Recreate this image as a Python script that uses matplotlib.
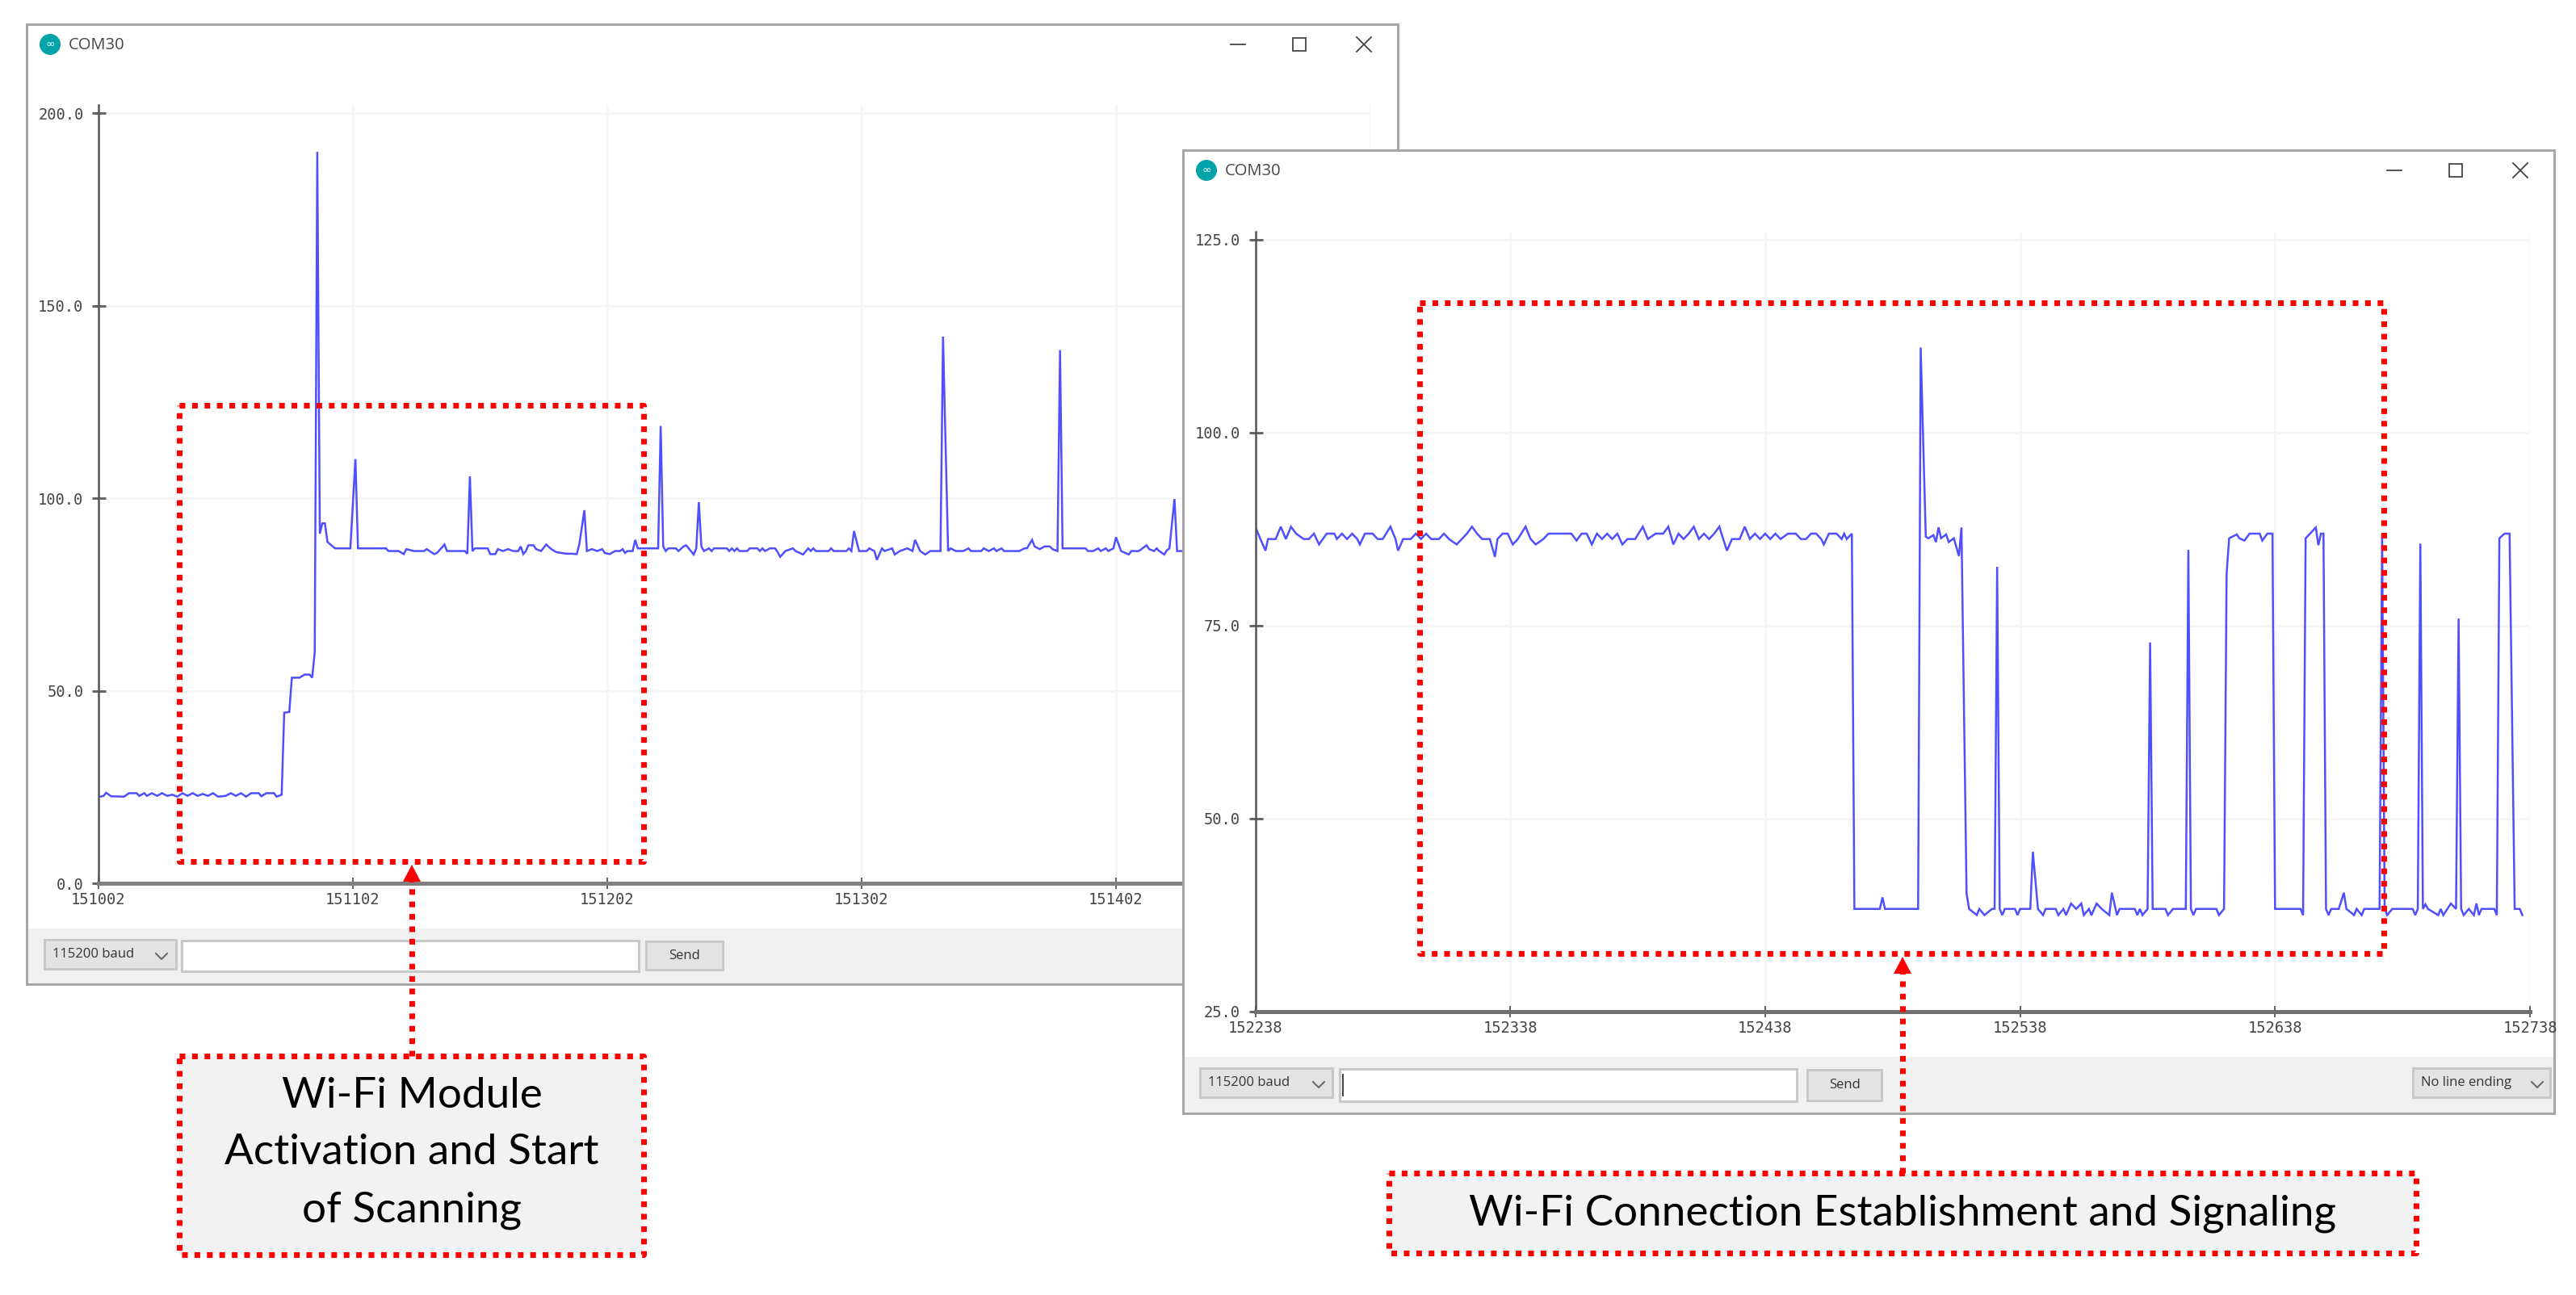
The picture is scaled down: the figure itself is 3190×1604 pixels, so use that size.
from __future__ import annotations

import matplotlib
matplotlib.use("Agg")
import matplotlib.pyplot as plt
from matplotlib.patches import Circle, Polygon, Rectangle

FIG_W, FIG_H = 3190, 1604
DPI = 100

# (sample offset from first tick, value)
LEFT_TRACE = [
    (0, 22.4), (2, 22.7), (3, 23.5), (5, 22.6), (10, 22.5), (12, 23.4), (15, 23.4), (16, 22.7),
    (18, 23.4), (19, 22.7), (21, 23.4), (23, 22.7), (25, 23.4), (27, 22.7), (29, 23.0), (31, 22.5),
    (33, 23.4), (35, 22.7), (37, 23.4), (39, 22.7), (41, 23.2), (43, 22.7), (45, 23.4), (47, 22.5),
    (50, 22.7), (52, 23.4), (54, 22.7), (56, 23.4), (58, 22.5), (60, 23.4), (63, 23.4), (64, 22.6),
    (66, 23.4), (69, 23.4), (70, 22.5), (72, 23.0), (73, 44.3), (75, 44.5), (76, 53.4), (79, 53.4),
    (81, 54.2), (83, 54.2), (84, 53.4), (85, 60.0), (86, 190.0), (87, 90.8), (88, 93.5), (89, 93.5),
    (90, 88.7), (91, 88.1), (93, 87.0), (99, 87.0), (101, 110.2), (102, 87.0), (113, 87.0), (114, 86.3),
    (118, 86.3), (120, 85.5), (121, 86.8), (124, 86.3), (128, 86.3), (129, 86.8), (132, 85.5), (133, 85.8),
    (135, 87.2), (136, 88.0), (137, 86.3), (144, 86.3), (145, 85.6), (146, 105.7), (147, 86.3), (148, 87.0),
    (153, 87.0), (154, 85.5), (156, 85.5), (157, 86.8), (159, 86.3), (161, 86.8), (163, 86.3), (165, 86.3),
    (166, 87.5), (167, 85.5), (168, 86.3), (169, 87.8), (171, 87.8), (172, 86.8), (174, 86.3), (176, 88.0),
    (178, 86.8), (180, 86.0), (184, 85.6), (186, 85.6), (188, 85.5), (189, 88.0), (191, 96.9), (192, 86.3),
    (194, 86.8), (196, 86.3), (198, 86.8), (199, 85.8), (201, 85.5), (203, 86.3), (205, 86.3), (206, 86.8),
    (207, 85.8), (208, 86.3), (210, 86.3), (211, 89.2), (212, 87.0), (220, 87.0), (221, 118.8), (222, 87.5),
    (223, 86.3), (224, 87.0), (227, 87.0), (228, 86.3), (230, 87.5), (231, 87.8), (232, 87.0), (234, 85.4),
    (235, 87.0), (236, 99.0), (237, 87.5), (238, 86.3), (240, 87.0), (241, 86.3), (242, 87.0), (247, 87.0),
    (248, 86.3), (249, 87.0), (250, 86.3), (251, 87.0), (252, 86.3), (255, 86.3), (256, 87.0), (259, 87.0),
    (260, 86.3), (261, 87.0), (262, 86.3), (264, 87.0), (266, 87.0), (267, 86.0), (268, 84.8), (270, 86.3),
    (273, 87.0), (274, 86.3), (277, 85.4), (279, 87.0), (280, 86.3), (281, 87.0), (282, 86.3), (287, 86.3),
    (288, 87.0), (289, 86.3), (294, 86.3), (295, 87.0), (296, 86.3), (297, 91.5), (299, 86.3), (302, 86.3),
    (303, 87.0), (305, 86.3), (306, 84.0), (308, 87.0), (309, 86.3), (312, 87.0), (313, 85.4), (315, 86.3),
    (318, 87.0), (320, 86.3), (321, 89.2), (323, 86.3), (325, 85.4), (327, 86.3), (331, 86.3), (332, 142.0),
    (334, 86.3), (335, 87.0), (337, 86.3), (340, 86.3), (342, 87.0), (343, 86.3), (347, 86.3), (348, 87.0),
    (350, 86.3), (352, 87.0), (353, 86.3), (355, 87.0), (356, 86.3), (362, 86.3), (364, 87.0), (365, 87.0),
    (367, 89.2), (368, 87.5), (370, 86.8), (372, 87.5), (374, 87.5), (375, 86.8), (377, 86.3), (378, 138.5),
    (379, 87.0), (388, 87.0), (389, 86.3), (391, 86.3), (393, 87.0), (394, 86.3), (396, 87.0), (397, 86.3),
    (399, 87.0), (400, 89.9), (402, 86.3), (405, 85.4), (406, 86.3), (409, 86.3), (412, 87.8), (413, 86.8),
    (415, 86.3), (416, 87.0), (417, 86.3), (419, 85.4), (420, 86.5), (421, 87.0), (423, 99.8), (424, 86.3),
    (427, 86.3),
]

# same reading for the right plot
RIGHT_TRACE = [
    (0, 87.8), (2, 86.2), (4, 84.7), (5, 86.2), (8, 86.2), (10, 87.8), (12, 86.2), (14, 87.8),
    (16, 86.9), (19, 86.2), (21, 86.2), (23, 86.9), (25, 85.5), (28, 86.9), (31, 86.9), (32, 86.2),
    (34, 86.9), (36, 86.2), (38, 86.9), (40, 86.2), (41, 85.5), (43, 86.9), (46, 86.9), (48, 86.2),
    (50, 86.2), (53, 87.8), (55, 86.2), (56, 84.7), (58, 86.2), (61, 86.2), (63, 86.9), (65, 86.2),
    (67, 86.9), (69, 86.2), (72, 86.2), (74, 86.9), (76, 86.2), (79, 85.5), (81, 86.2), (83, 86.9),
    (85, 87.8), (87, 86.9), (89, 86.2), (92, 86.2), (94, 83.9), (95, 86.2), (97, 86.9), (99, 86.9),
    (101, 85.5), (103, 86.2), (106, 87.8), (108, 86.2), (110, 85.5), (113, 86.2), (115, 86.9), (124, 86.9),
    (126, 86.0), (128, 86.9), (130, 86.9), (132, 85.5), (134, 86.9), (136, 86.2), (138, 86.9), (140, 86.2),
    (142, 86.9), (144, 85.5), (146, 86.2), (149, 86.2), (152, 87.8), (154, 86.2), (157, 86.9), (160, 86.9),
    (162, 87.8), (164, 85.5), (166, 86.9), (168, 86.2), (170, 86.9), (172, 87.8), (174, 86.2), (176, 86.9),
    (178, 86.2), (180, 86.9), (182, 87.8), (185, 84.7), (187, 86.2), (190, 86.2), (192, 87.8), (194, 86.2),
    (196, 86.9), (198, 86.2), (200, 86.9), (202, 86.2), (204, 86.9), (206, 86.2), (209, 86.9), (212, 86.9),
    (214, 86.2), (216, 86.2), (218, 86.9), (220, 86.9), (222, 86.2), (223, 85.5), (225, 86.9), (228, 86.9),
    (230, 86.2), (231, 86.9), (232, 86.2), (234, 86.9), (235, 38.3), (245, 38.3), (246, 39.8), (247, 38.3),
    (260, 38.3), (261, 111.0), (263, 86.5), (264, 86.3), (266, 86.7), (267, 85.8), (268, 87.7), (269, 86.3),
    (271, 86.8), (272, 85.8), (274, 86.3), (276, 84.0), (277, 87.7), (279, 40.3), (280, 38.3), (283, 37.5),
    (284, 38.3), (286, 37.5), (289, 38.3), (290, 38.3), (291, 82.6), (292, 38.3), (293, 37.5), (294, 38.3),
    (298, 38.3), (299, 37.5), (300, 38.3), (304, 38.3), (305, 45.7), (307, 38.3), (309, 37.5), (310, 38.3),
    (314, 38.3), (315, 37.5), (317, 38.3), (318, 37.5), (320, 39.0), (322, 38.3), (324, 39.0), (325, 37.5),
    (327, 38.3), (328, 37.5), (330, 39.0), (332, 38.3), (335, 37.5), (336, 40.4), (338, 37.5), (339, 38.3),
    (345, 38.3), (346, 37.5), (347, 38.3), (348, 37.5), (350, 38.3), (351, 72.8), (352, 38.3), (357, 38.3),
    (358, 37.5), (360, 38.3), (365, 38.3), (366, 84.8), (367, 38.3), (368, 37.5), (369, 38.3), (377, 38.3),
    (378, 37.5), (380, 38.3), (381, 81.7), (382, 86.3), (385, 86.8), (386, 86.3), (388, 86.0), (390, 86.9),
    (394, 86.9), (395, 86.0), (397, 86.9), (399, 86.9), (400, 38.3), (410, 38.3), (411, 37.5), (412, 86.3),
    (416, 87.7), (417, 85.4), (418, 86.9), (419, 86.9), (420, 38.3), (421, 37.5), (422, 38.3), (425, 38.3),
    (427, 40.4), (428, 38.3), (431, 37.5), (432, 38.3), (434, 37.5), (435, 38.3), (441, 38.3), (442, 86.8),
    (443, 38.3), (444, 37.5), (446, 38.3), (454, 38.3), (455, 37.5), (456, 38.3), (457, 85.6), (458, 38.3),
    (459, 38.9), (460, 38.3), (464, 37.5), (465, 38.3), (466, 37.5), (469, 39.0), (471, 38.3), (472, 75.9),
    (473, 38.3), (474, 37.5), (476, 38.3), (478, 37.5), (479, 39.0), (480, 37.5), (481, 38.3), (486, 38.3),
    (487, 37.5), (488, 86.3), (490, 86.9), (492, 86.9), (494, 38.3), (496, 38.3), (497, 37.5),
]

LEFT_X_START = 151002
RIGHT_X_START = 152238
LEFT_XTICKS = [151002, 151102, 151202, 151302, 151402, 151502]
RIGHT_XTICKS = [152238, 152338, 152438, 152538, 152638, 152738]
LEFT_YTICKS = [0, 50, 100, 150, 200]
RIGHT_YTICKS = [25, 50, 75, 100, 125]

LEFT_NOTE = "Wi-Fi Module\nActivation and Start\nof Scanning"
RIGHT_NOTE = "Wi-Fi Connection Establishment and Signaling"

RED = "#ff0000"
TRACE_BLUE = "#4f4fff"
GRID = "#f6f6f6"
TOOLBAR = "#f0f0f0"
WIDGET = "#e3e3e3"
EDGE = "#a6a6a6"


def px(n: float) -> float:
    """Pixels to points at the figure dpi."""
    return n * 72 / DPI


def pixel_axes(fig, zorder: int):
    ax = fig.add_axes([0, 0, 1, 1], zorder=zorder)
    ax.set_xlim(0, FIG_W)
    ax.set_ylim(FIG_H, 0)
    ax.axis("off")
    ax.patch.set_alpha(0)
    return ax


def widget(ax, x0, y0, x1, y1, text="", face=WIDGET, size=12, align="left"):
    ax.add_patch(Rectangle((x0, y0), x1 - x0, y1 - y0, fc=face, ec="#c8c8c8", lw=px(3)))
    if text:
        tx = x0 + 10 if align == "left" else (x0 + x1) / 2
        ax.text(tx, (y0 + y1) / 2, text, ha=align, va="center", fontsize=size,
                family="Open Sans", color="#333333", stretch="normal")


def chevron(ax, x, y):
    ax.plot([x - 7, x, x + 7], [y - 3, y + 4, y - 3], color="#666666", lw=px(2))


def draw_window(ax, x0, y0, x1, y1, toolbar_top):
    ax.add_patch(Rectangle((x0, y0), x1 - x0, y1 - y0, fc="white", ec="none"))
    ax.add_patch(Rectangle((x0, toolbar_top), x1 - x0, y1 - toolbar_top, fc=TOOLBAR, ec="none"))
    ax.add_patch(Rectangle((x0, y0), x1 - x0, y1 - y0, fc="none", ec=EDGE, lw=px(3)))

    ax.add_patch(Circle((x0 + 29, y0 + 25), 13, fc="#00a3a8", ec="none"))
    ax.text(x0 + 29, y0 + 25, "∞", ha="center", va="center", fontsize=10, color="white")
    ax.text(x0 + 52, y0 + 26, "COM30", ha="left", va="center", fontsize=14.5,
            family="Open Sans", color="#444444", stretch="normal")

    # minimise, maximise, close
    cy = y0 + 25
    mx, bx, cx = x1 - 198, x1 - 122, x1 - 42
    ax.plot([mx - 9, mx + 9], [cy, cy], color="#444444", lw=px(1.8))
    ax.add_patch(Rectangle((bx - 8, cy - 8), 16, 16, fc="none", ec="#444444", lw=px(1.8)))
    ax.plot([cx - 9, cx + 9], [cy - 9, cy + 9], color="#444444", lw=px(1.8))
    ax.plot([cx - 9, cx + 9], [cy + 9, cy - 9], color="#444444", lw=px(1.8))


def draw_plot(fig, rect, trace, x_start, xticks, yticks, ylim, zorder, axis_grey):
    x0, top, x1, bottom = rect
    ax = fig.add_axes(
        [x0 / FIG_W, 1 - bottom / FIG_H, (x1 - x0) / FIG_W, (bottom - top) / FIG_H],
        zorder=zorder,
    )
    ax.patch.set_alpha(0)
    ax.plot([x_start + s for s, _ in trace], [v for _, v in trace],
            color=TRACE_BLUE, lw=px(2.5), solid_joinstyle="miter")
    ax.set_xlim(xticks[0], xticks[-1])
    ax.set_ylim(*ylim)
    ax.set_xticks(xticks)
    ax.set_xticklabels([str(t) for t in xticks])
    ax.set_yticks(yticks)
    ax.set_yticklabels([f"{t:.1f}" for t in yticks])
    ax.grid(True, color=GRID, lw=px(3))
    ax.set_axisbelow(True)
    for side in ("top", "right"):
        ax.spines[side].set_visible(False)
    ax.spines["left"].set_color("#555555")
    ax.spines["left"].set_linewidth(px(2.5))
    ax.spines["bottom"].set_color(axis_grey)
    ax.spines["bottom"].set_linewidth(px(5))
    ax.tick_params(axis="x", direction="inout", length=px(14), width=px(2), color="#666666", pad=px(4))
    ax.tick_params(axis="y", direction="inout", length=px(17), width=px(3), color="#666666", pad=px(10))
    for label in ax.get_xticklabels() + ax.get_yticklabels():
        label.set_family("DejaVu Sans Mono")
        label.set_fontsize(13.5)
        label.set_color("#444444")
    return ax


def dotted_box(ax, x0, y0, x1, y1, face="none"):
    ax.add_patch(Rectangle((x0, y0), x1 - x0, y1 - y0, fc=face, ec="none"))
    ax.plot([x0, x1, x1, x0, x0], [y0, y0, y1, y1, y0], color=RED, lw=px(7),
            linestyle=(0, (1.0, 1.2)), dash_capstyle="butt")


def dotted_arrow(ax, x, y_from, y_tip):
    ax.plot([x, x], [y_from, y_tip + 20], color=RED, lw=px(7),
            linestyle=(0, (1.0, 1.2)), dash_capstyle="butt")
    ax.add_patch(Polygon([(x, y_tip), (x - 11, y_tip + 21), (x + 11, y_tip + 21)], fc=RED, ec="none"))


def main() -> None:
    fig = plt.figure(figsize=(FIG_W / DPI, FIG_H / DPI), dpi=DPI, facecolor="white")

    # left window sits behind the right one
    back = pixel_axes(fig, 0)
    draw_window(back, 33, 30, 1731, 1219, 1150)
    widget(back, 55, 1164, 218, 1200, "115200 baud")
    chevron(back, 200, 1184)
    widget(back, 225, 1165, 791, 1203, face="white")
    widget(back, 800, 1166, 895, 1201, "Send", align="center")
    draw_plot(fig, (122, 130.4, 1697, 1094), LEFT_TRACE, LEFT_X_START, LEFT_XTICKS,
              LEFT_YTICKS, (0, 202.1), 1, "#808080")

    front = pixel_axes(fig, 2)
    draw_window(front, 1465, 186, 3163, 1379, 1309)
    widget(front, 1486, 1323, 1650, 1359, "115200 baud")
    chevron(front, 1633, 1343)
    widget(front, 1659, 1324, 2225, 1364, face="white")
    front.plot([1663, 1663], [1331, 1357], color="#444444", lw=px(2))
    widget(front, 2238, 1325, 2330, 1363, "Send", align="center")
    widget(front, 2988, 1323, 3158, 1359, "No line ending")
    chevron(front, 3142, 1343)
    draw_plot(fig, (1554.5, 287, 3133, 1253), RIGHT_TRACE, RIGHT_X_START, RIGHT_XTICKS,
              RIGHT_YTICKS, (25, 126.0), 3, "#707070")

    notes = pixel_axes(fig, 4)
    dotted_box(notes, 222, 502, 797, 1067)
    dotted_box(notes, 1758, 375, 2952, 1181)
    dotted_arrow(notes, 510, 1308, 1071)
    dotted_arrow(notes, 2356, 1453, 1185)
    dotted_box(notes, 222, 1308, 797, 1554, face="#f2f2f2")
    dotted_box(notes, 1720, 1453, 2992, 1552, face="#f2f2f2")
    for i, line in enumerate(LEFT_NOTE.split("\n")):
        notes.text(510, 1357 + i * 71, line, ha="center", va="center",
                   fontsize=38.2, family="Lato", color="black")
    notes.text(2356, 1503, RIGHT_NOTE, ha="center", va="center",
               fontsize=38.2, family="Lato", color="black")

    fig.savefig("out.png", dpi=DPI)


if __name__ == "__main__":
    main()
